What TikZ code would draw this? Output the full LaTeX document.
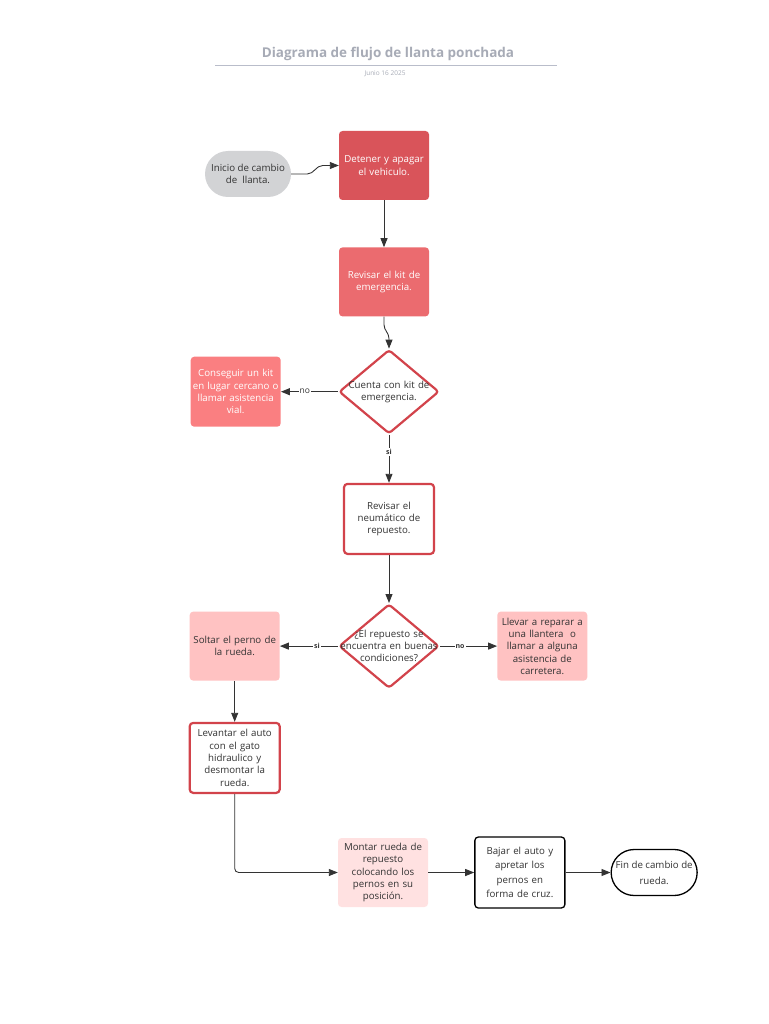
\documentclass[tikz,border=0pt]{standalone}
\usepackage{fontspec}
\setmainfont{Open Sans}
\usepackage{xcolor}
\usepackage{tikz}
\usetikzlibrary{arrows.meta,positioning,shapes.geometric,shapes.misc}
\definecolor{flTitle}{HTML}{A7ABB6}
\definecolor{flRule}{HTML}{B9BDCA}
\definecolor{flInk}{HTML}{333333}
\definecolor{flStart}{HTML}{D2D3D5}
\definecolor{flCrimson}{HTML}{D9545A}
\definecolor{flCoral}{HTML}{EB6B6F}
\definecolor{flSalmon}{HTML}{FA7F81}
\definecolor{flEdge}{HTML}{D2434B}
\definecolor{flPink}{HTML}{FFC2C2}
\definecolor{flBlush}{HTML}{FFE1E1}
\newcommand{\wide}[1]{\makebox[\linewidth]{#1}}
\tikzset{
  stepbox/.style={rectangle,rounded corners=3.5pt,minimum width=90pt,minimum height=69pt,
    text width=86pt,align=center,inner sep=2pt,text=flInk,
    font=\fontsize{9.7}{12.3}\selectfont},
  redline/.style={stepbox,draw=flEdge,line width=2.2pt,fill=white},
  blackline/.style={stepbox,draw=black,line width=1.3pt,fill=white},
  decision/.style={diamond,shape aspect=1.17,draw=flEdge,line width=2.2pt,fill=white,rounded corners=3pt,
    minimum width=100pt,minimum height=84pt,inner sep=0pt,text width=48pt,align=center,
    text=flInk,font=\fontsize{9.7}{12}\selectfont},
  terminal/.style={rounded rectangle,minimum width=90pt,minimum height=46pt,inner sep=2pt,
    align=center,text=flInk,font=\fontsize{9.7}{12.5}\selectfont},
  flow/.style={-{Triangle[length=9pt,width=7pt]},draw=flInk,line width=0.9pt},
  choice/.style={fill=white,inner sep=1pt,text=flInk,font=\fontsize{8.5}{9}\selectfont}
}
\begin{document}
\begin{tikzpicture}[x=1pt,y=1pt,node distance=47pt and 57pt]
\useasboundingbox (0,0) rectangle (768,-1024);
% header
\node[text=flTitle,font=\fontsize{13.5}{16}\selectfont\bfseries] (title) at (388,-54) {Diagrama de flujo de llanta ponchada};
\draw[flRule,line width=0.8pt] (215,-65) -- (557,-65);
\node[text=flTitle,font=\fontsize{6.5}{8}\selectfont] (date) at (385,-74) {Junio 16 2025};
% steps
\node[terminal,fill=flStart] (start) at (248,-174) {Inicio de cambio\\de\ \ llanta.};
\node[stepbox,fill=flCrimson,text=white] (stop) at (384,-165.5) {Detener y apagar\\el vehiculo.};
\node[stepbox,fill=flCoral,text=white,below=47pt of stop] (revkit) {Revisar el kit de\\emergencia.};
\node[decision,below=32pt of revkit,xshift=5pt] (kitq) {\wide{Cuenta con kit de}\\\wide{emergencia.}};
\node[stepbox,fill=flSalmon,text=white,minimum height=70pt,left=57pt of kitq] (getkit) {Conseguir un kit\\\wide{en lugar cercano o}\\llamar asistencia\\vial.};
\node[redline,minimum height=70pt,below=48pt of kitq] (revspare) {Revisar el\\neum\'atico de\\repuesto.};
\node[decision,below=48pt of revspare] (spareq) {\wide{¿El repuesto se}\\\wide{encuentra en buenas}\\\wide{condiciones?}};
\node[stepbox,fill=flPink,left=58pt of spareq] (loosen) {\wide{Soltar el perno de}\\la rueda.};
\node[stepbox,fill=flPink,right=57pt of spareq] (repair) {\wide{Llevar a reparar a}\\una llantera\ \ o\\llamar a alguna\\asistencia de\\carretera.};
\node[redline,minimum height=70pt,below=41pt of loosen] (lift) {Levantar el auto\\con el gato\\hidraulico y\\desmontar la\\rueda.};
\node[stepbox,fill=flBlush] (mount) at (383,-872.5) {Montar rueda de\\repuesto\\colocando los\\pernos en su\\posición.};
\node[blackline,minimum height=71pt,font=\fontsize{9.7}{14.5}\selectfont,right=46pt of mount] (lower) {Bajar el auto y\\apretar los\\pernos en\\forma de cruz.};
\node[terminal,draw=black,line width=1.3pt,fill=white,font=\fontsize{9.7}{16}\selectfont,right=45pt of lower] (finish) {Fin de cambio de\\rueda.};
% connectors
\draw[flow] (start.east) -- ++(16,0) to[out=0,in=180] ([xshift=-16pt]stop.west) -- (stop.west);
\draw[flow] (stop) -- (revkit);
\draw[flow] (revkit.south) -- ++(0,-8) to[out=-90,in=90] ([yshift=10pt]kitq.north) -- (kitq.north);
\draw[flow] (kitq) -- node[choice,pos=0.58]{no} (getkit);
\draw[flow] (kitq) -- node[choice,pos=0.36,font=\fontsize{7}{8}\selectfont\bfseries]{si} (revspare);
\draw[flow] (revspare) -- (spareq);
\draw[flow] (spareq) -- node[choice,pos=0.36,font=\fontsize{7}{8}\selectfont\bfseries]{si} (loosen);
\draw[flow] (spareq) -- node[choice,pos=0.35,font=\fontsize{7}{8}\selectfont\bfseries]{no} (repair);
\draw[flow] (loosen) -- (lift);
\draw[flow,rounded corners=4pt] (lift.south) |- (mount.west);
\draw[flow] (mount) -- (lower);
\draw[flow] (lower) -- (finish);
\end{tikzpicture}
\end{document}
